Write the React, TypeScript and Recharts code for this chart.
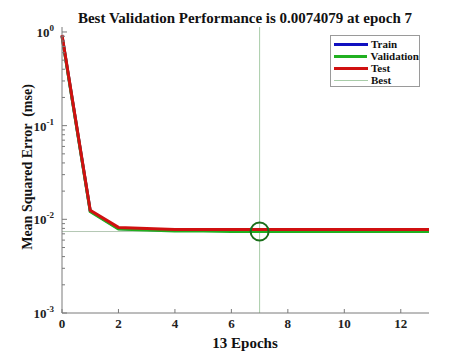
import { LineChart, Line, XAxis, YAxis, ReferenceLine, ReferenceDot } from 'recharts';

const epochs = [0, 1, 2, 3, 4, 5, 6, 7, 8, 9, 10, 11, 12, 13];
const trainMse = [0.91, 0.0123, 0.008, 0.0078, 0.0077, 0.0076, 0.0076, 0.0076, 0.0076, 0.0076, 0.0076, 0.0076, 0.0076, 0.0076];
const validationMse = [0.9, 0.0121, 0.0079, 0.0077, 0.0075, 0.0075, 0.0074, 0.0074079, 0.0074, 0.0074, 0.0074, 0.0074, 0.0074, 0.0074];
const testMse = [0.93, 0.0125, 0.0082, 0.008, 0.0078, 0.0078, 0.0078, 0.0078, 0.0078, 0.0078, 0.0078, 0.0078, 0.0078, 0.0078];
const xTicks = [0, 2, 4, 6, 8, 10, 12];
const yMajor = [0.001, 0.01, 0.1, 1];
const bestEpoch = 7;
const bestValue = 0.0074079;

const data = epochs.map((e, i) => ({
  epoch: e,
  train: trainMse[i],
  validation: validationMse[i],
  test: testMse[i],
}));

const yTicks: number[] = [];
yMajor.forEach((m, i) => {
  yTicks.push(m);
  if (i < yMajor.length - 1) for (let k = 2; k <= 9; k++) yTicks.push(m * k);
});

const FONT = '"Liberation Serif", "Times New Roman", serif';
const AXIS = '#7a7a7a';
const BEST = '#a8cca8';

const legendItems = [
  { name: 'Train', color: '#1010c0', width: 3 },
  { name: 'Validation', color: '#20b020', width: 3 },
  { name: 'Test', color: '#d01010', width: 3 },
  { name: 'Best', color: BEST, width: 1 },
];

function XTick({ x, y, payload }: any) {
  return (
    <g>
      <line x1={x} y1={y} x2={x} y2={y - 4} stroke={AXIS} />
      <text x={x} y={y + 15} textAnchor="middle" fontFamily={FONT} fontWeight="bold" fontSize={13} fill="#222">
        {payload.value}
      </text>
    </g>
  );
}

function YTick({ x, y, payload }: any) {
  const v = payload.value;
  const exp = Math.round(Math.log10(v));
  const major = Math.abs(Math.log10(v) - exp) < 1e-6;
  return (
    <g>
      <line x1={x} y1={y} x2={x + (major ? 5 : 3)} y2={y} stroke={AXIS} />
      {major && (
        <text x={x - 8} y={y + 5} textAnchor="end" fontFamily={FONT} fontWeight="bold" fontSize={13} fill="#222">
          10
          <tspan dy={-6} fontSize={9}>{exp}</tspan>
        </text>
      )}
    </g>
  );
}

function LegendBox() {
  return (
    <div
      style={{
        position: 'absolute',
        left: 330,
        top: 35,
        width: 90,
        height: 52,
        border: '1px solid #9a9a9a',
        background: '#fff',
        fontFamily: FONT,
        fontWeight: 'bold',
        fontSize: 11,
        lineHeight: '12px',
        padding: '2px 0 0 0',
        boxSizing: 'border-box',
      }}
    >
      {legendItems.map((it) => (
        <div key={it.name} style={{ display: 'flex', alignItems: 'center', height: 12 }}>
          <span style={{ display: 'inline-block', width: 34, height: it.width, background: it.color, marginLeft: 3, marginRight: 3 }} />
          <span style={{ color: '#111' }}>{it.name}</span>
        </div>
      ))}
    </div>
  );
}

export default function App() {
  return (
    <div style={{ position: 'absolute', left: 0, top: 0, width: 474, height: 355, background: '#fff' }}>
      <LineChart
        width={474}
        height={355}
        data={data}
        margin={{ top: 27, right: 45, left: 0, bottom: 0 }}
        style={{ position: 'absolute', left: 0, top: 0 }}
      >
        <XAxis
          dataKey="epoch"
          type="number"
          domain={[0, 13]}
          ticks={xTicks}
          height={42}
          tickSize={0}
          tickMargin={0}
          stroke={AXIS}
          tick={<XTick />}
          interval={0}
        />
        <YAxis
          scale="log"
          type="number"
          domain={[0.001, 1.13]}
          allowDataOverflow
          ticks={yTicks}
          width={62}
          tickSize={0}
          tickMargin={0}
          stroke={AXIS}
          tick={<YTick />}
          interval={0}
        />
        <ReferenceLine x={bestEpoch} stroke={BEST} strokeWidth={1} />
        <ReferenceLine y={bestValue} stroke="#b4c8b4" strokeWidth={1} />
        <Line dataKey="train" stroke="#1010c0" strokeWidth={3} dot={false} isAnimationActive={false} />
        <Line dataKey="validation" stroke="#20b020" strokeWidth={3} dot={false} isAnimationActive={false} />
        <Line dataKey="test" stroke="#d01010" strokeWidth={3} dot={false} isAnimationActive={false} />
        <ReferenceDot x={bestEpoch} y={bestValue} r={9} fill="none" stroke="#1a6e1a" strokeWidth={2} />
      </LineChart>
      <svg width={474} height={355} style={{ position: 'absolute', left: 0, top: 0, pointerEvents: 'none' }}>
        <text x={245} y={23} textAnchor="middle" fontFamily={FONT} fontWeight="bold" fontSize={15} fill="#111">
          Best Validation Performance is 0.0074079 at epoch 7
        </text>
        <text
          x={0}
          y={0}
          transform="translate(32, 167) rotate(-90)"
          textAnchor="middle"
          fontFamily={FONT}
          fontWeight="bold"
          fontSize={14}
          fill="#111"
          style={{ whiteSpace: 'pre' }}
        >
          Mean Squared Error  (mse)
        </text>
        <text x={245} y={348} textAnchor="middle" fontFamily={FONT} fontWeight="bold" fontSize={15} fill="#111">
          13 Epochs
        </text>
      </svg>
      <LegendBox />
    </div>
  );
}
